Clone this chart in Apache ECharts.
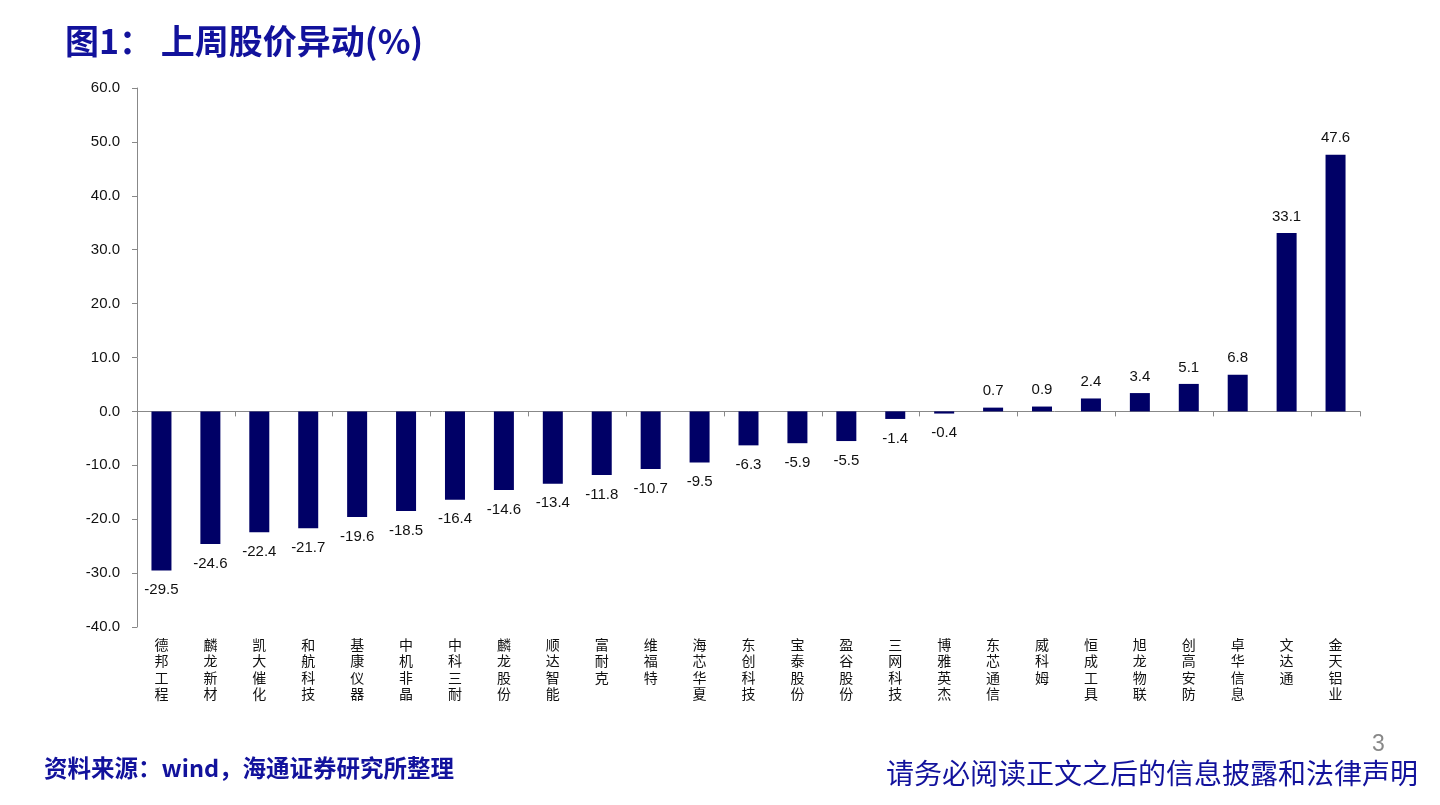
<!DOCTYPE html>
<html><head><meta charset="utf-8">
<script src="https://cdn.jsdelivr.net/npm/echarts@6/dist/echarts.min.js"></script>
<style>html,body{margin:0;padding:0;background:#fff;}#c{width:1440px;height:805px;}</style>
</head><body><div id="c"></div>
<script>
const categories = ['德邦工程','麟龙新材','凯大催化','和航科技','基康仪器','中机非晶','中科三耐','麟龙股份','顺达智能','富耐克','维福特','海芯华夏','东创科技','宝泰股份','盈谷股份','三网科技','博雅英杰','东芯通信','威科姆','恒成工具','旭龙物联','创高安防','卓华信息','文达通','金天铝业'];
const values = [-29.5,-24.6,-22.4,-21.7,-19.6,-18.5,-16.4,-14.6,-13.4,-11.8,-10.7,-9.5,-6.3,-5.9,-5.5,-1.4,-0.4,0.7,0.9,2.4,3.4,5.1,6.8,33.1,47.6];
const yTicks = {min:-40, max:60, interval:10};

const chart = echarts.init(document.getElementById('c'));
const font = 'Liberation Sans, Arial, sans-serif';
const cjk = 'Noto Sans CJK SC, sans-serif';
chart.setOption({
  animation:false,
  backgroundColor:'#fff',
  title:{text:'图1： 上周股价异动(%)', left:60, top:19,
    textStyle:{fontSize:34, fontWeight:'bold', color:'#12129c', fontFamily:cjk}},
  grid:{left:137, right:80, top:88, bottom:178, containLabel:false, outerBoundsMode:'none'},
  xAxis:[{
    type:'category', data:categories, position:'bottom',
    axisLine:{show:false, onZero:false}, axisTick:{show:false},
    axisLabel:{interval:0, margin:9, color:'#111', fontSize:14, lineHeight:16.5, fontFamily:cjk,
      formatter:v=>v.split('').join('\n')}
  },{
    type:'category', data:categories, position:'bottom',
    axisLine:{show:true, onZero:true, lineStyle:{color:'#888', width:1}},
    axisTick:{show:true, length:5, lineStyle:{color:'#888'}},
    axisLabel:{show:false}
  }],
  yAxis:{type:'value', min:yTicks.min, max:yTicks.max, interval:yTicks.interval,
    axisLine:{show:true, lineStyle:{color:'#888'}},
    axisTick:{show:true, length:5, lineStyle:{color:'#888'}},
    splitLine:{show:false},
    axisLabel:{color:'#111', fontSize:15, fontFamily:font, margin:17, formatter:v=>v.toFixed(1)}
  },
  series:[{
    type:'bar', xAxisIndex:0, barWidth:20,
    data:values.map(v=>({value:v, label:{position: v<0?'bottom':'top', distance: v<0?12:9}})),
    itemStyle:{color:'#000066'},
    label:{show:true, color:'#111', fontSize:15, fontFamily:font, formatter:p=>p.value.toFixed(1)}
  }],
  graphic:[
    {type:'text', left:44, top:756, style:{text:'资料来源：wind，海通证券研究所整理', fontSize:23.5, fontWeight:'bold', fill:'#12129c', fontFamily:cjk}},
    {type:'text', right:22, top:759, style:{text:'请务必阅读正文之后的信息披露和法律声明', fontSize:28, fill:'#12129c', fontFamily:cjk}},
    {type:'text', left:1372, top:733, style:{text:'3', fontSize:23, fill:'#888', fontFamily:font}}
  ]
});
</script></body></html>
